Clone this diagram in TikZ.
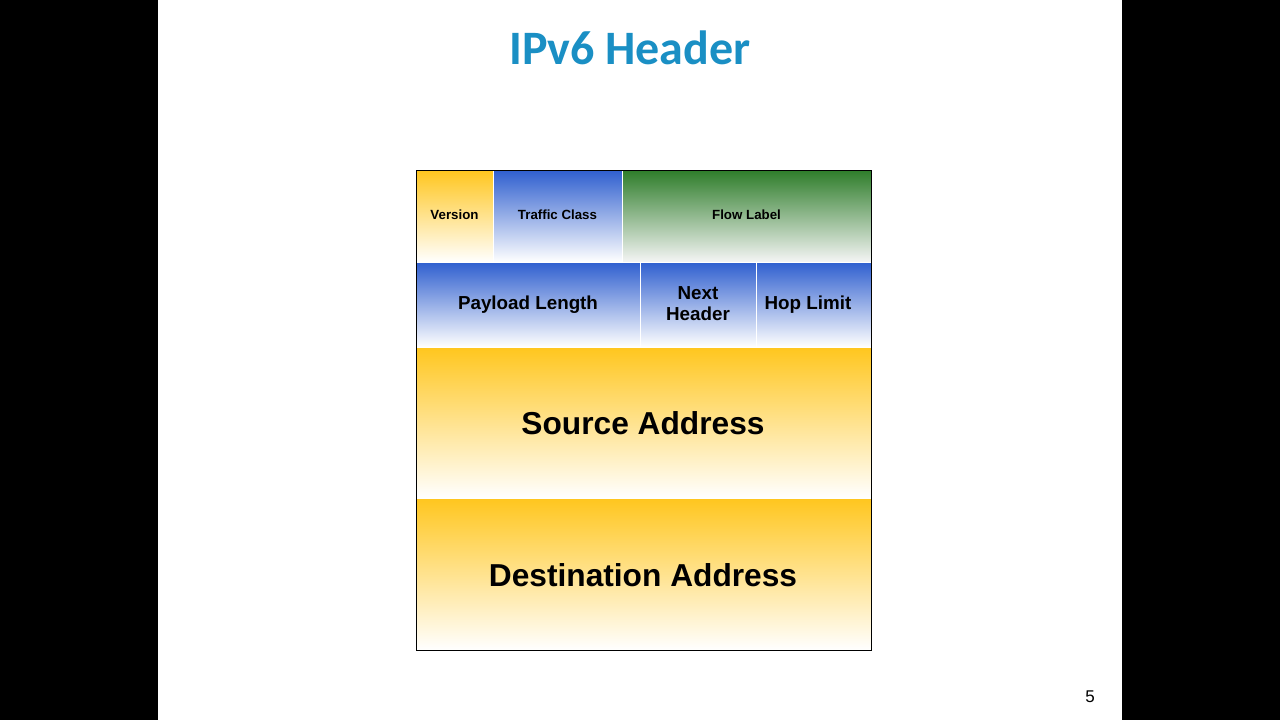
\documentclass[tikz,border=0pt]{standalone}
\usepackage{fontspec}
\setmainfont{Liberation Sans}
\newfontfamily\titlefont{Carlito}
\definecolor{ttl}{HTML}{1A8FC4}
\definecolor{yel}{HTML}{FFC61E}
\definecolor{blu}{HTML}{2F5FCF}
\definecolor{grn}{HTML}{2E7D2A}
\begin{document}
\begin{tikzpicture}[x=1pt,y=-1pt,
  cell/.style={draw=white,line width=0.8pt,bottom color=white},
  lbl/.style={font=\bfseries,align=center,inner sep=0pt}]
\useasboundingbox (0,0) rectangle (1280,720);
\fill[black] (0,0) rectangle (1280,720);
\fill[white] (158,0) rectangle (1122,720);
\node[lbl,text=ttl,font=\titlefont\bfseries\fontsize{48}{52}\selectfont] (title) at (630,48) {IPv6 Header};
% row1
\shade[cell,top color=yel] (416,170) rectangle (493,262);
\shade[cell,top color=blu] (493,170) rectangle (622,262);
\shade[cell,top color=grn,bottom color=white!92!gray] (622,170) rectangle (871,262);
\node[lbl,font=\bfseries\fontsize{13.3}{15}\selectfont] (ver) at (454.5,215) {Version};
\node[lbl,font=\bfseries\fontsize{13.3}{15}\selectfont] (tc) at (557.5,215) {Traffic Class};
\node[lbl,font=\bfseries\fontsize{13.3}{15}\selectfont] (fl) at (746.5,215) {Flow Label};
% row2
\shade[cell,top color=blu] (416,262) rectangle (640,347);
\shade[cell,top color=blu] (640,262) rectangle (756,347);
\shade[cell,top color=blu] (756,262) rectangle (871,347);
\node[lbl,font=\bfseries\fontsize{18.8}{21}\selectfont] (pl) at (528,305) {Payload Length};
\node[lbl,font=\bfseries\fontsize{18.8}{21}\selectfont] (nh) at (698,304) {Next\\Header};
\node[lbl,font=\bfseries\fontsize{18.8}{21}\selectfont] (hl) at (808,305) {Hop Limit};
% rows 3-4
\shade[cell,top color=yel] (416,347) rectangle (871,498);
\shade[cell,top color=yel] (416,498) rectangle (871,650);
\node[lbl,font=\bfseries\fontsize{31.7}{36}\selectfont] (sa) at (643,423) {Source Address};
\node[lbl,font=\bfseries\fontsize{31.7}{36}\selectfont] (da) at (643,575) {Destination Address};
\draw[black,line width=1pt] (416,170) rectangle (871,650);
\node[lbl,font=\fontsize{17}{19}\selectfont] (pg) at (1090,697) {5};
\end{tikzpicture}
\end{document}
